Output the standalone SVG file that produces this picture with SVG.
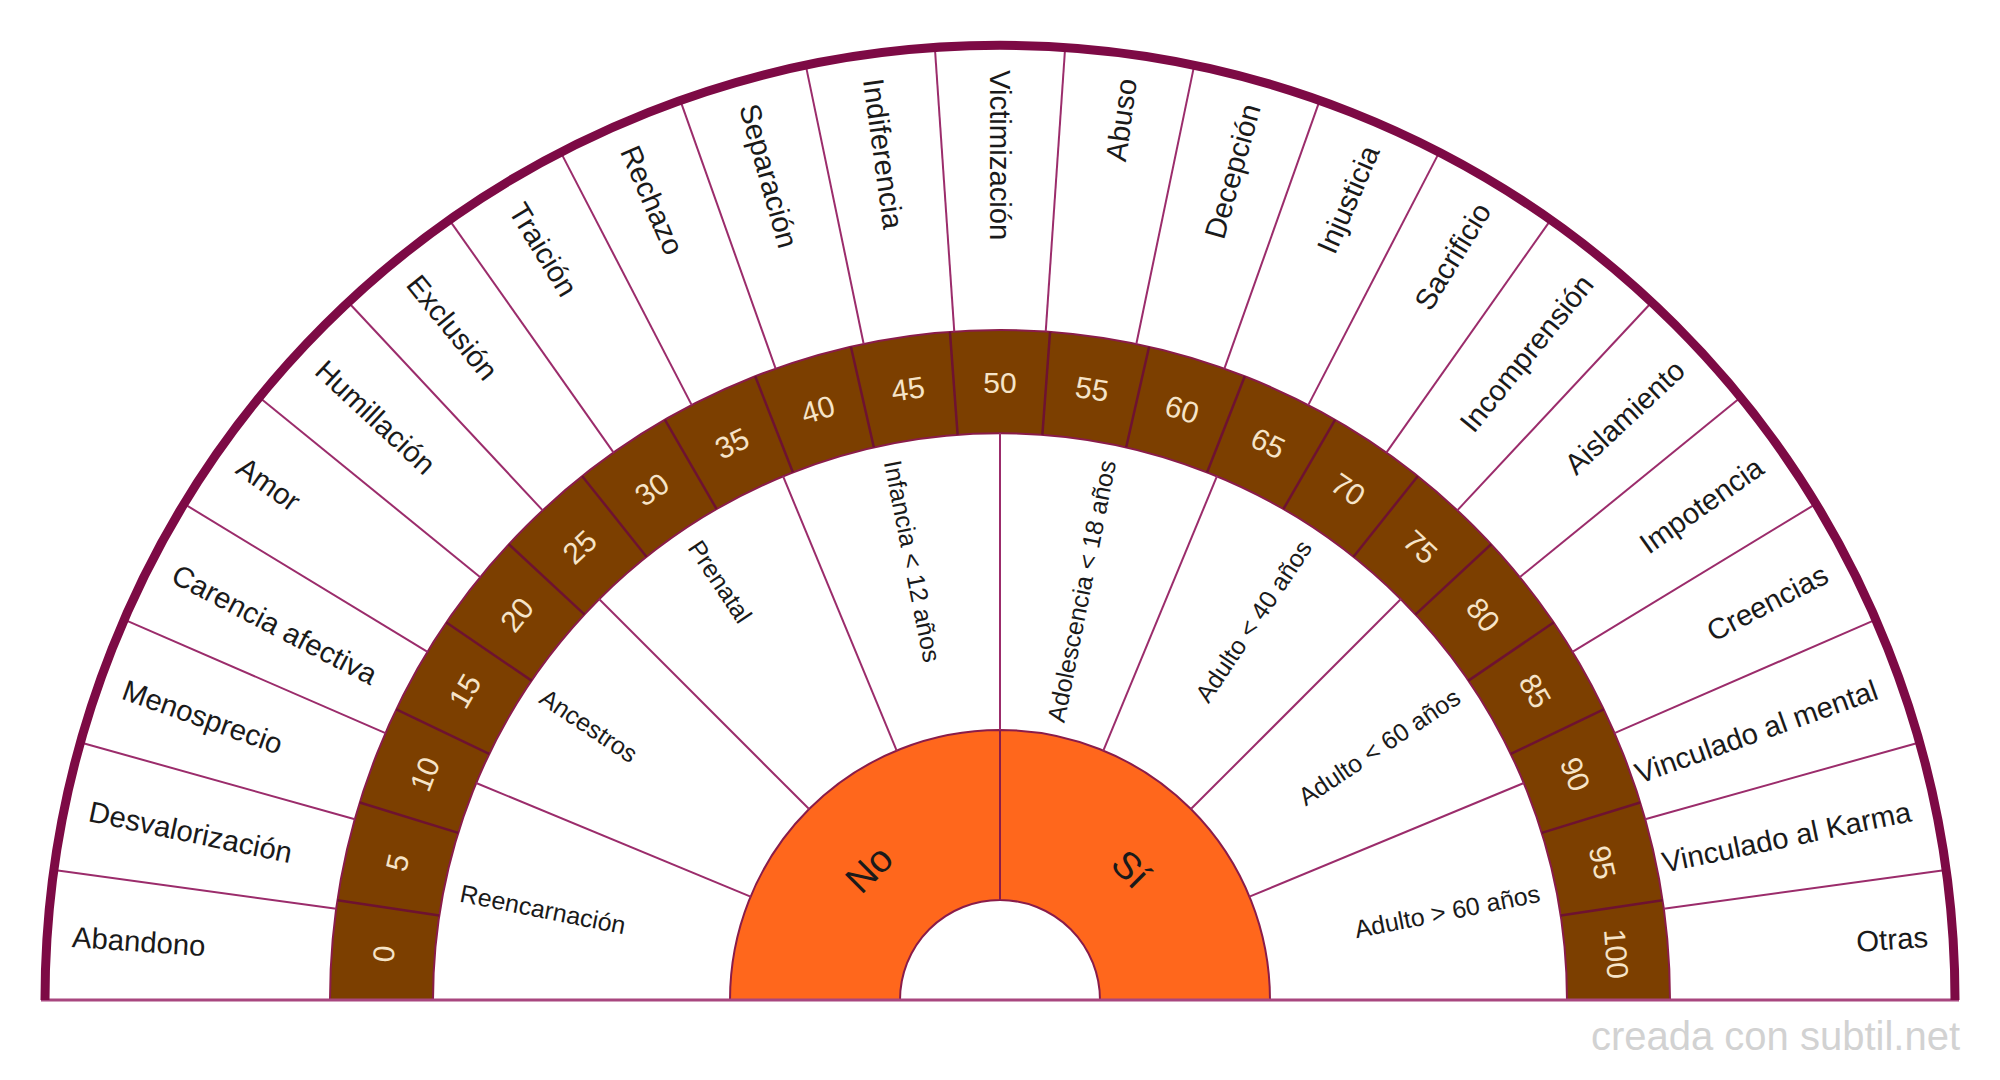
<svg xmlns="http://www.w3.org/2000/svg" width="2000" height="1080" viewBox="0 0 2000 1080">
<style>
  text { font-family: "Liberation Sans", Arial, sans-serif; dominant-baseline: central; }
  .outer { font-size: 29.3px; fill: #1a1a1a; }
  .mid { font-size: 25px; fill: #1a1a1a; }
  .num { font-size: 30px; fill: #f6e4c8; text-anchor: middle; }
  .yn { font-size: 38px; fill: #1a1a1a; text-anchor: middle; }
  .l { text-anchor: start; }
  .r { text-anchor: end; }
  .div { stroke: #9b2c6b; stroke-width: 2; fill: none; }
  .bdiv { stroke: #6e1230; stroke-width: 2.5; fill: none; }
  .wm { font-size: 40px; fill: #d2d2d2; text-anchor: end; dominant-baseline: auto; }
</style>
<rect x="0" y="0" width="2000" height="1080" fill="#ffffff"/>

<g id="outer-ring">
  <path d="M 45 1000 A 955 955 0 0 1 1955 1000 Z" fill="#ffffff"/>
</g>

<g id="band">
  <path d="M 330 1000 A 670 670 0 0 1 1670 1000 L 1567 1000 A 567 567 0 0 0 433 1000 Z" fill="#7c3f00" stroke="#8a1c4a" stroke-width="2"/>
</g>

<g id="orange-no">
  <path d="M 730 1000 A 270 270 0 0 1 1000 730 L 1000 900 A 100 100 0 0 0 900 1000 Z" fill="#ff671c" stroke="#8a1c4a" stroke-width="2"/>
  <text class="yn" x="1000" y="815" transform="rotate(-45 1000 1000)">No</text>
</g>
<g id="orange-si">
  <path d="M 1000 730 A 270 270 0 0 1 1270 1000 L 1100 1000 A 100 100 0 0 0 1000 900 Z" fill="#ff671c" stroke="#8a1c4a" stroke-width="2"/>
  <text class="yn" x="1000" y="815" transform="rotate(45 1000 1000)">Sí</text>
</g>

<g id="connectors">
  <g class="div">
    <line x1="330" y1="1000" x2="49" y2="1000" transform="rotate(7.826 1000 1000)"/>
    <line x1="330" y1="1000" x2="49" y2="1000" transform="rotate(15.652 1000 1000)"/>
    <line x1="330" y1="1000" x2="49" y2="1000" transform="rotate(23.478 1000 1000)"/>
    <line x1="330" y1="1000" x2="49" y2="1000" transform="rotate(31.304 1000 1000)"/>
    <line x1="330" y1="1000" x2="49" y2="1000" transform="rotate(39.130 1000 1000)"/>
    <line x1="330" y1="1000" x2="49" y2="1000" transform="rotate(46.957 1000 1000)"/>
    <line x1="330" y1="1000" x2="49" y2="1000" transform="rotate(54.783 1000 1000)"/>
    <line x1="330" y1="1000" x2="49" y2="1000" transform="rotate(62.609 1000 1000)"/>
    <line x1="330" y1="1000" x2="49" y2="1000" transform="rotate(70.435 1000 1000)"/>
    <line x1="330" y1="1000" x2="49" y2="1000" transform="rotate(78.261 1000 1000)"/>
    <line x1="330" y1="1000" x2="49" y2="1000" transform="rotate(86.087 1000 1000)"/>
    <line x1="330" y1="1000" x2="49" y2="1000" transform="rotate(93.913 1000 1000)"/>
    <line x1="330" y1="1000" x2="49" y2="1000" transform="rotate(101.739 1000 1000)"/>
    <line x1="330" y1="1000" x2="49" y2="1000" transform="rotate(109.565 1000 1000)"/>
    <line x1="330" y1="1000" x2="49" y2="1000" transform="rotate(117.391 1000 1000)"/>
    <line x1="330" y1="1000" x2="49" y2="1000" transform="rotate(125.217 1000 1000)"/>
    <line x1="330" y1="1000" x2="49" y2="1000" transform="rotate(133.043 1000 1000)"/>
    <line x1="330" y1="1000" x2="49" y2="1000" transform="rotate(140.870 1000 1000)"/>
    <line x1="330" y1="1000" x2="49" y2="1000" transform="rotate(148.696 1000 1000)"/>
    <line x1="330" y1="1000" x2="49" y2="1000" transform="rotate(156.522 1000 1000)"/>
    <line x1="330" y1="1000" x2="49" y2="1000" transform="rotate(164.348 1000 1000)"/>
    <line x1="330" y1="1000" x2="49" y2="1000" transform="rotate(172.174 1000 1000)"/>
  </g>
  <g class="bdiv">
    <line x1="433" y1="1000" x2="330" y2="1000" transform="rotate(8.571 1000 1000)"/>
    <line x1="433" y1="1000" x2="330" y2="1000" transform="rotate(17.143 1000 1000)"/>
    <line x1="433" y1="1000" x2="330" y2="1000" transform="rotate(25.714 1000 1000)"/>
    <line x1="433" y1="1000" x2="330" y2="1000" transform="rotate(34.286 1000 1000)"/>
    <line x1="433" y1="1000" x2="330" y2="1000" transform="rotate(42.857 1000 1000)"/>
    <line x1="433" y1="1000" x2="330" y2="1000" transform="rotate(51.429 1000 1000)"/>
    <line x1="433" y1="1000" x2="330" y2="1000" transform="rotate(60 1000 1000)"/>
    <line x1="433" y1="1000" x2="330" y2="1000" transform="rotate(68.571 1000 1000)"/>
    <line x1="433" y1="1000" x2="330" y2="1000" transform="rotate(77.143 1000 1000)"/>
    <line x1="433" y1="1000" x2="330" y2="1000" transform="rotate(85.714 1000 1000)"/>
    <line x1="433" y1="1000" x2="330" y2="1000" transform="rotate(94.286 1000 1000)"/>
    <line x1="433" y1="1000" x2="330" y2="1000" transform="rotate(102.857 1000 1000)"/>
    <line x1="433" y1="1000" x2="330" y2="1000" transform="rotate(111.429 1000 1000)"/>
    <line x1="433" y1="1000" x2="330" y2="1000" transform="rotate(120 1000 1000)"/>
    <line x1="433" y1="1000" x2="330" y2="1000" transform="rotate(128.571 1000 1000)"/>
    <line x1="433" y1="1000" x2="330" y2="1000" transform="rotate(137.143 1000 1000)"/>
    <line x1="433" y1="1000" x2="330" y2="1000" transform="rotate(145.714 1000 1000)"/>
    <line x1="433" y1="1000" x2="330" y2="1000" transform="rotate(154.286 1000 1000)"/>
    <line x1="433" y1="1000" x2="330" y2="1000" transform="rotate(162.857 1000 1000)"/>
    <line x1="433" y1="1000" x2="330" y2="1000" transform="rotate(171.429 1000 1000)"/>
  </g>
  <g class="div">
    <line x1="730" y1="1000" x2="433" y2="1000" transform="rotate(22.5 1000 1000)"/>
    <line x1="730" y1="1000" x2="433" y2="1000" transform="rotate(45 1000 1000)"/>
    <line x1="730" y1="1000" x2="433" y2="1000" transform="rotate(67.5 1000 1000)"/>
    <line x1="730" y1="1000" x2="433" y2="1000" transform="rotate(90 1000 1000)"/>
    <line x1="730" y1="1000" x2="433" y2="1000" transform="rotate(112.5 1000 1000)"/>
    <line x1="730" y1="1000" x2="433" y2="1000" transform="rotate(135 1000 1000)"/>
    <line x1="730" y1="1000" x2="433" y2="1000" transform="rotate(157.5 1000 1000)"/>
  </g>
  <line x1="1000" y1="730" x2="1000" y2="900" stroke="#8a1c4a" stroke-width="2"/>
  <line x1="41" y1="1000" x2="1959" y2="1000" stroke="#a8477f" stroke-width="3"/>
  <path d="M 45 1000 A 955 955 0 0 1 1955 1000" fill="none" stroke="#7d0a45" stroke-width="9"/>
</g>

<g id="outer-labels" class="outer">
  <text class="l" x="70" y="1000" transform="rotate(3.913 1000 1000)">Abandono</text>
  <text class="l" x="70" y="1000" transform="rotate(11.739 1000 1000)">Desvalorización</text>
  <text class="l" x="70" y="1000" transform="rotate(19.565 1000 1000)">Menosprecio</text>
  <text class="l" x="70" y="1000" transform="rotate(27.391 1000 1000)">Carencia afectiva</text>
  <text class="l" x="70" y="1000" transform="rotate(35.217 1000 1000)">Amor</text>
  <text class="l" x="70" y="1000" transform="rotate(43.043 1000 1000)">Humillación</text>
  <text class="l" x="70" y="1000" transform="rotate(50.870 1000 1000)">Exclusión</text>
  <text class="l" x="70" y="1000" transform="rotate(58.696 1000 1000)">Traición</text>
  <text class="l" x="70" y="1000" transform="rotate(66.522 1000 1000)">Rechazo</text>
  <text class="l" x="70" y="1000" transform="rotate(74.348 1000 1000)">Separación</text>
  <text class="l" x="70" y="1000" transform="rotate(82.174 1000 1000)">Indiferencia</text>
  <text class="l" x="70" y="1000" transform="rotate(90 1000 1000)">Victimización</text>
  <text class="r" x="1930" y="1000" transform="rotate(-82.174 1000 1000)">Abuso</text>
  <text class="r" x="1930" y="1000" transform="rotate(-74.348 1000 1000)">Decepción</text>
  <text class="r" x="1930" y="1000" transform="rotate(-66.522 1000 1000)">Injusticia</text>
  <text class="r" x="1930" y="1000" transform="rotate(-58.696 1000 1000)">Sacrificio</text>
  <text class="r" x="1930" y="1000" transform="rotate(-50.870 1000 1000)">Incomprensión</text>
  <text class="r" x="1930" y="1000" transform="rotate(-43.043 1000 1000)">Aislamiento</text>
  <text class="r" x="1930" y="1000" transform="rotate(-35.217 1000 1000)">Impotencia</text>
  <text class="r" x="1930" y="1000" transform="rotate(-27.391 1000 1000)">Creencias</text>
  <text class="r" x="1930" y="1000" transform="rotate(-19.565 1000 1000)">Vinculado al mental</text>
  <text class="r" x="1930" y="1000" transform="rotate(-11.739 1000 1000)">Vinculado al Karma</text>
  <text class="r" x="1930" y="1000" transform="rotate(-3.913 1000 1000)">Otras</text>
</g>

<g id="band-labels" class="num">
  <text x="1000" y="382" transform="rotate(-85.714 1000 1000)">0</text>
  <text x="1000" y="382" transform="rotate(-77.143 1000 1000)">5</text>
  <text x="1000" y="382" transform="rotate(-68.571 1000 1000)">10</text>
  <text x="1000" y="382" transform="rotate(-60 1000 1000)">15</text>
  <text x="1000" y="382" transform="rotate(-51.429 1000 1000)">20</text>
  <text x="1000" y="382" transform="rotate(-42.857 1000 1000)">25</text>
  <text x="1000" y="382" transform="rotate(-34.286 1000 1000)">30</text>
  <text x="1000" y="382" transform="rotate(-25.714 1000 1000)">35</text>
  <text x="1000" y="382" transform="rotate(-17.143 1000 1000)">40</text>
  <text x="1000" y="382" transform="rotate(-8.571 1000 1000)">45</text>
  <text x="1000" y="382">50</text>
  <text x="1000" y="382" transform="rotate(8.571 1000 1000)">55</text>
  <text x="1000" y="382" transform="rotate(17.143 1000 1000)">60</text>
  <text x="1000" y="382" transform="rotate(25.714 1000 1000)">65</text>
  <text x="1000" y="382" transform="rotate(34.286 1000 1000)">70</text>
  <text x="1000" y="382" transform="rotate(42.857 1000 1000)">75</text>
  <text x="1000" y="382" transform="rotate(51.429 1000 1000)">80</text>
  <text x="1000" y="382" transform="rotate(60 1000 1000)">85</text>
  <text x="1000" y="382" transform="rotate(68.571 1000 1000)">90</text>
  <text x="1000" y="382" transform="rotate(77.143 1000 1000)">95</text>
  <text x="1000" y="382" transform="rotate(85.714 1000 1000)">100</text>
</g>

<g id="middle-labels" class="mid">
  <text class="l" x="450" y="1000" transform="rotate(11.25 1000 1000)">Reencarnación</text>
  <text class="l" x="450" y="1000" transform="rotate(33.75 1000 1000)">Ancestros</text>
  <text class="l" x="450" y="1000" transform="rotate(56.25 1000 1000)">Prenatal</text>
  <text class="l" x="450" y="1000" transform="rotate(78.75 1000 1000)">Infancia &lt; 12 años</text>
  <text class="r" x="1550" y="1000" transform="rotate(-78.75 1000 1000)">Adolescencia &lt; 18 años</text>
  <text class="r" x="1550" y="1000" transform="rotate(-56.25 1000 1000)">Adulto &lt; 40 años</text>
  <text class="r" x="1550" y="1000" transform="rotate(-33.75 1000 1000)">Adulto &lt; 60 años</text>
  <text class="r" x="1550" y="1000" transform="rotate(-11.25 1000 1000)">Adulto &gt; 60 años</text>
</g>

<text id="watermark" class="wm" x="1960" y="1050">creada con subtil.net</text>
</svg>
